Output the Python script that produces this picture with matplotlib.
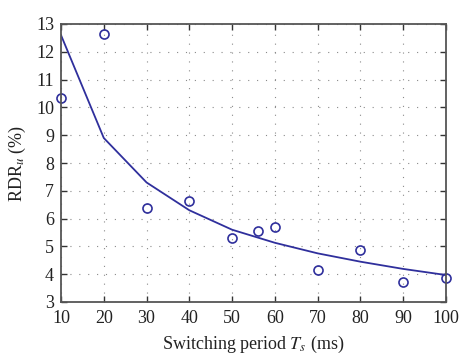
import matplotlib
matplotlib.use("Agg")
import matplotlib.pyplot as plt

plt.rcParams['font.family'] = ['Liberation Serif', 'DejaVu Serif']
plt.rcParams['mathtext.fontset'] = 'stix'

# === DATA ===
meas_x = [10, 20, 30, 40, 50, 56, 60, 70, 80, 90, 100]
meas_y = [10.35, 12.65, 6.37, 6.62, 5.31, 5.55, 5.70, 4.15, 4.86, 3.73, 3.87]

fit_x = [10, 20, 30, 40, 50, 60, 70, 80, 90, 100]
fit_y = [12.6, 8.9, 7.3, 6.3, 5.6, 5.13, 4.75, 4.45, 4.19, 3.97]

x_ticks = [10, 20, 30, 40, 50, 60, 70, 80, 90, 100]
y_ticks = list(range(3, 14))

blue = "#2f2f9c"

fig = plt.figure(figsize=(4.74, 3.63), dpi=100)
ax = fig.add_axes([61 / 474, 61 / 363, 385 / 474, 278 / 363])

ax.plot(fit_x, fit_y, color=blue, lw=1.3)
ax.plot(meas_x, meas_y, 'o', mfc='none', mec=blue, mew=1.2, ms=6.5, clip_on=False)

ax.set_xlim(10, 100)
ax.set_ylim(3, 13)
ax.set_xticks(x_ticks)
ax.set_yticks(y_ticks)
ax.grid(True, linestyle=(0, (1, 7)), color='#8a8a8a', lw=0.8)
ax.tick_params(direction='in', top=True, right=True, length=4, width=1,
               colors='#333333', labelsize=13, labelcolor='#222222')
ax.tick_params(axis='x', pad=6)
ax.tick_params(axis='y', pad=5)
for s in ax.spines.values():
    s.set_color('#555555')
    s.set_linewidth(1.3)

ax.set_xlabel("Switching period $T_s$ (ms)", fontsize=13, color='#222222', labelpad=5)
ax.set_ylabel("RDR$_u$ (%)", fontsize=13, color='#222222', labelpad=6)

fig.savefig("out.png", dpi=100)
